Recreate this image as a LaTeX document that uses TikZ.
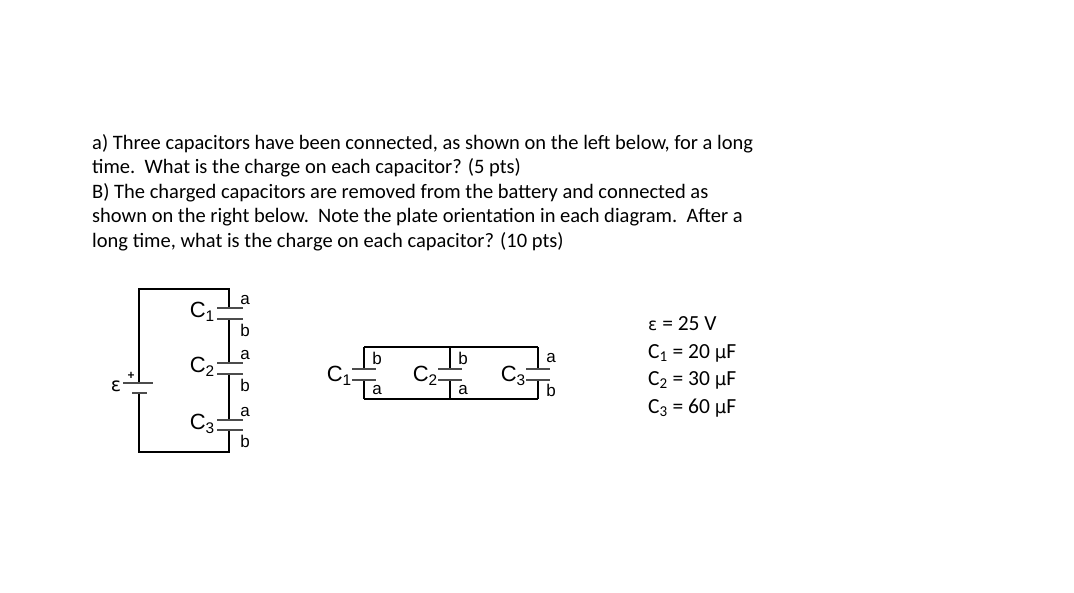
\documentclass[tikz,border=0pt]{standalone}
\usepackage{fontspec}
\setmainfont{Carlito}
\newfontfamily\arial{Liberation Sans}
\newfontfamily\dv{DejaVu Sans}
\begin{document}
\begin{tikzpicture}[x=1pt,y=-1pt,
  wire/.style={line width=2.2pt},
  plate/.style={line width=2.2pt,draw=black!70},
  lbl/.style={font=\arial\fontsize{17}{17}\selectfont,inner sep=0pt},
  cl/.style={font=\arial\fontsize{22}{22}\selectfont,inner sep=0pt},
  txt/.style={font=\fontsize{20.5}{24.5}\selectfont,inner sep=0pt,anchor=north west,align=left}]
\useasboundingbox (0,0) rectangle (1074,592);
\node[txt] (q) at (92,134) {a) Three capacitors have been connected, as shown on the left below, for a long\\
time.\ \ What is the charge on each capacitor? (5 pts)\\
B) The charged capacitors are removed from the battery and connected as\\
shown on the right below.\ \ Note the plate orientation in each diagram.\ \ After a\\
long time, what is the charge on each capacitor? (10 pts)};
% left circuit
\coordinate (tl) at (139,289); \coordinate (tr) at (229,289);
\coordinate (bl) at (139,452); \coordinate (br) at (229,452);
\coordinate (bt) at (139,383); \coordinate (bb) at (139,393);
\draw[wire] (bt) -- (tl) -- (tr) -- (229,308);
\draw[wire] (229,319) -- (229,363);
\draw[wire] (229,374) -- (229,420);
\draw[wire] (229,430) -- (br) -- (bl) -- (bb);
\draw[plate] (123,383) -- (153,383);
\draw[plate] (132,393) -- (147,393);
\node[font=\bfseries\fontsize{13}{13}\selectfont,inner sep=0pt] (plus) at (131,376) {+};
\node[font=\dv\fontsize{19}{19}\selectfont,inner sep=0pt] (eps) at (116,386) {ε};
\foreach \n/\ya/\yb in {1/308/319,2/363/374,3/420/430}{
  \draw[plate] (217,\ya) -- (243,\ya);
  \draw[plate] (217,\yb) -- (243,\yb);
  \node[lbl] (a\n) at (245,\ya-8) {a};
  \node[lbl] (b\n) at (245,\yb+11) {b};
  \node[cl,anchor=east] (c\n) at (215,\ya+4) {C\textsubscript{\n}};
}
% middle circuit
\draw[wire] (364,347) -- (538,347);
\draw[wire] (364,399) -- (538,399);
\foreach \x/\n/\t/\b in {364/1/b/a,450/2/b/a,538/3/a/b}{
  \draw[wire] (\x,347) -- (\x,369);
  \draw[wire] (\x,380) -- (\x,399);
  \draw[plate] (\x-12,369) -- (\x+12,369);
  \draw[plate] (\x-12,380) -- (\x+12,380);
  \node[lbl] (t\n) at (\x+13,358) {\t};
  \node[lbl] (u\n) at (\x+13,390) {\b};
  \node[cl,anchor=east] (m\n) at (\x-12,376) {C\textsubscript{\n}};
}
% values
\node[font=\fontsize{21.5}{21.5}\selectfont,inner sep=0pt,anchor=west,align=left] (vals) at (648,367)
{{\dv\fontsize{17}{17}\selectfont ε} = 25 V\\[6pt]
C\textsubscript{1} = 20 {\dv\fontsize{18}{18}\selectfont μ}F\\[6pt]
C\textsubscript{2} = 30 {\dv\fontsize{18}{18}\selectfont μ}F\\[6pt]
C\textsubscript{3} = 60 {\dv\fontsize{18}{18}\selectfont μ}F};
\end{tikzpicture}
\end{document}
